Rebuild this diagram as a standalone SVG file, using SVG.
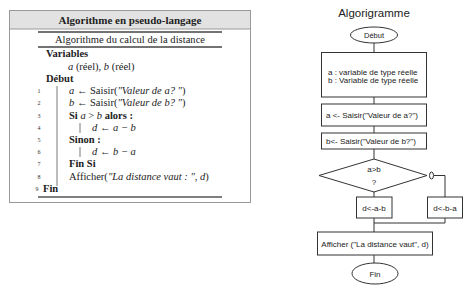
<svg xmlns="http://www.w3.org/2000/svg" width="474" height="291" viewBox="0 0 474 291">
<style>
.s{font-family:"Liberation Serif","Times New Roman",serif;font-size:10.5px;fill:#222}
.b{font-weight:bold}
.i{font-style:italic}
.n{font-family:"Liberation Serif",serif;font-size:6px;fill:#333;text-anchor:middle}
.f{font-family:"Liberation Sans",Arial,sans-serif;fill:#222;font-size:8px}
.m{text-anchor:middle}
.box{fill:#fff;stroke:#333;stroke-width:1}
.c{fill:none;stroke:#333;stroke-width:1}
</style>
<rect width="474" height="291" fill="#fff"/>
<g id="pseudo">
<rect x="9.5" y="10.5" width="241" height="192" fill="#fff" stroke="#999"/>
<rect x="9.5" y="10.5" width="241" height="18.5" fill="#e2e2e2" stroke="#999"/>
<text class="s b m" x="130" y="23.5" style="font-size:11px">Algorithme en pseudo-langage</text>
<line x1="38" y1="32" x2="222" y2="32" stroke="#444" stroke-width="1.5"/>
<text class="s m" x="130" y="43" textLength="150">Algorithme du calcul de la distance</text>
<line x1="38" y1="47" x2="222" y2="47" stroke="#444" stroke-width="1.5"/>
<text class="s b" x="46" y="57">Variables</text>
<text class="s" x="68" y="70"><tspan class="i">a</tspan> (réel), <tspan class="i">b</tspan> (réel)</text>
<text class="s b" x="46" y="82">Début</text>
<line x1="57" y1="86" x2="57" y2="186" stroke="#555" stroke-width="0.8"/>
<text class="n" x="39" y="93">1</text>
<text class="s" x="69" y="94"><tspan class="i">a</tspan> ← Saisir(<tspan class="i">"Valeur de a? "</tspan>)</text>
<text class="n" x="39" y="105">2</text>
<text class="s" x="69" y="106"><tspan class="i">b</tspan> ← Saisir(<tspan class="i">"Valeur de b? "</tspan>)</text>
<text class="n" x="39" y="118">3</text>
<text class="s" x="69" y="119"><tspan class="b">Si</tspan> <tspan class="i">a</tspan> &gt; <tspan class="i">b</tspan> <tspan class="b">alors :</tspan></text>
<text class="n" x="39" y="130">4</text>
<line x1="80" y1="123" x2="80" y2="133" stroke="#555" stroke-width="0.8"/>
<text class="s i" x="92" y="131">d ← a − b</text>
<text class="n" x="39" y="142">5</text>
<text class="s b" x="69" y="143">Sinon :</text>
<text class="n" x="39" y="154">6</text>
<line x1="80" y1="147" x2="80" y2="157" stroke="#555" stroke-width="0.8"/>
<text class="s i" x="92" y="155">d ← b − a</text>
<text class="n" x="39" y="166">7</text>
<text class="s b" x="69" y="167">Fin Si</text>
<text class="n" x="39" y="179">8</text>
<text class="s" x="69" y="180">Afficher(<tspan class="i">"La distance vaut : "</tspan>, <tspan class="i">d</tspan>)</text>
<text class="n" x="37" y="191">9</text>
<text class="s b" x="43" y="192">Fin</text>
<line x1="38" y1="197" x2="222" y2="197" stroke="#555" stroke-width="1.5"/>
</g>
<text class="f m" x="374" y="17" style="font-size:11.5px">Algorigramme</text>
<g id="connectors" class="c">
<line x1="374" y1="43" x2="374" y2="52"/>
<line x1="374" y1="97" x2="374" y2="104"/>
<line x1="374" y1="126" x2="374" y2="133"/>
<line x1="374" y1="149" x2="374" y2="159"/>
<line x1="374" y1="192" x2="374" y2="197"/>
<polyline points="434,175.5 445,175.5 445,197"/>
<polyline points="374,218 374,223 445,223 445,218"/>
<line x1="374" y1="223" x2="374" y2="232"/>
<line x1="374" y1="255" x2="374" y2="263"/>
</g>
<g id="debut">
<ellipse class="box" cx="374" cy="35" rx="23.5" ry="8"/>
<text class="f m" x="374" y="37.5" style="font-size:7.5px">Début</text>
</g>
<g id="vars">
<rect class="box" x="321.5" y="52.5" width="105" height="44.5"/>
<text class="f" x="328" y="75">a : variable de type réelle</text>
<text class="f" x="328" y="83">b : Variable de type réelle</text>
</g>
<g id="saisirA">
<rect class="box" x="321.5" y="104" width="105" height="22"/>
<text class="f" x="326" y="117.5">a &lt;- Saisir("Valeur de a?")</text>
</g>
<g id="saisirB">
<rect class="box" x="321.5" y="133" width="105" height="16"/>
<text class="f" x="326" y="144">b&lt;- Saisir("Valeur de b?")</text>
</g>
<g id="test">
<polygon class="box" points="374,159 427,175.5 374,192 319,175.5"/>
<ellipse class="box" cx="431.5" cy="175.5" rx="2" ry="3.5"/>
<text class="f m" x="374" y="172">a&gt;b</text>
<text class="f m" x="374" y="185">?</text>
</g>
<g id="dab">
<rect class="box" x="356.5" y="197" width="35.5" height="21"/>
<text class="f m" x="374" y="210.5">d&lt;-a-b</text>
</g>
<g id="dba">
<rect class="box" x="427.5" y="197" width="35" height="21"/>
<text class="f m" x="445" y="210.5">d&lt;-b-a</text>
</g>
<g id="afficher">
<rect class="box" x="317.5" y="232" width="115" height="23"/>
<text class="f m" x="375" y="246.5">Afficher ("La distance vaut", d)</text>
</g>
<g id="fin">
<ellipse class="box" cx="375" cy="273.5" rx="23" ry="10.5"/>
<text class="f m" x="375" y="276.5">Fin</text>
</g>
</svg>
